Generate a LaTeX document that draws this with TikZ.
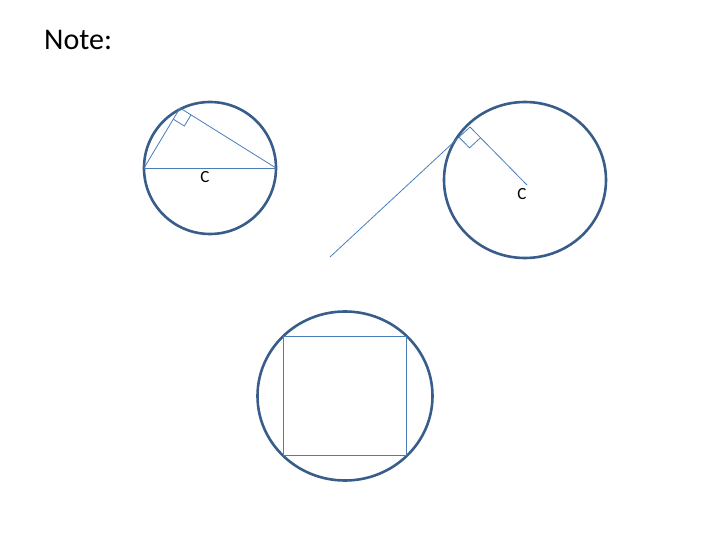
\documentclass[tikz,border=0pt]{standalone}
\usepackage{fontspec}
\setmainfont{Carlito}
\usetikzlibrary{angles}
\definecolor{ringblue}{HTML}{385D8A}
\definecolor{lineblue}{HTML}{4A7EBB}

\begin{document}
\begin{tikzpicture}[x=1pt, y=-1pt,
    ring/.style={draw=ringblue, line width=2.6pt},
    thinline/.style={draw=lineblue, line width=0.8pt},
    lbl/.style={inner sep=0pt, anchor=base, font=\fontsize{17}{20}\selectfont}]
  \useasboundingbox (0,0) rectangle (720,540);
  \node[inner sep=0pt, anchor=base west, font=\fontsize{30}{34}\selectfont] (note) at (44,50) {Note:};

  % circle with a triangle on its diameter
  \draw[ring] (210,168) coordinate (o1) circle [radius=66];
  \draw[thinline] (144,168) coordinate (d1) -- (276,168) coordinate (d2);
  \draw[thinline] (d1) -- (180,108) coordinate (p) -- (d2);
  \pic[draw=lineblue, line width=0.8pt, angle radius=13pt] {right angle = d1--p--d2};
  \node[lbl] (c1) at (205,182.3) {C};

  % tangent and radius
  \draw[ring] (525,180) coordinate (o2) circle [x radius=81, y radius=78];
  \draw[thinline] (330,257) coordinate (l) -- (470,127) coordinate (t);
  \draw[thinline] (t) -- (527,185) coordinate (r);
  \pic[draw=lineblue, line width=0.8pt, angle radius=15pt] {right angle = l--t--r};
  \node[lbl] (c2) at (522,199.3) {C};

  % square in a circle
  \draw[ring] (345,396) coordinate (o3) circle [x radius=87.5, y radius=84.5];
  \draw[thinline] (283.5,336.5) coordinate (s1) rectangle (406.5,455) coordinate (s2);
\end{tikzpicture}
\end{document}
